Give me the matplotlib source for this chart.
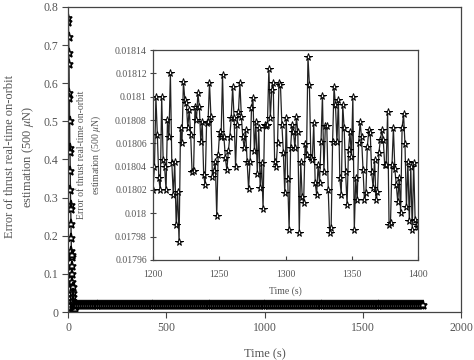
import numpy as np
import matplotlib
matplotlib.use("Agg")
import matplotlib.pyplot as plt
import matplotlib.ticker as ticker

plt.rcParams['font.family'] = ['Liberation Serif', 'DejaVu Serif']
plt.rcParams['mathtext.fontset'] = 'stix'

# Start-up transient (s, error)
trans_t = [0, 1, 2, 3, 4, 5, 6, 7, 8, 9, 10, 11, 12, 13, 14, 15, 16, 17, 18,
           19, 20, 21, 22, 23, 24, 25, 26, 27, 28, 29, 30, 32, 34, 36, 38, 40]
trans_v = [0, 0.77, 0.76, 0.72, 0.68, 0.65, 0.575, 0.56, 0.50, 0.43, 0.42,
           0.37, 0.32, 0.28, 0.27, 0.23, 0.195, 0.16, 0.145, 0.15, 0.12, 0.10,
           0.08, 0.065, 0.05, 0.04, 0.03, 0.022, 0.012, 0.006, 0.004, 0.003,
           0.008, 0.015, 0.018, 0.019]

# Steady part, one sample every 10 s from 45 s to 1805 s
steady_v = [
    0.0181, 0.0180, 0.0182, 0.0179, 0.0181, 0.0180, 0.0181, 0.0182, 0.0180, 0.0179,
    0.0181, 0.0180, 0.0182, 0.0181, 0.0180, 0.0179, 0.0181, 0.0180, 0.0181, 0.0182,
    0.0180, 0.0181, 0.0179, 0.0180, 0.0181, 0.0182, 0.0180, 0.0181, 0.0180, 0.0179,
    0.0181, 0.0180, 0.0182, 0.0181, 0.0180, 0.0181, 0.0179, 0.0180, 0.0181, 0.0180,
    0.0182, 0.0180, 0.0181, 0.0179, 0.0180, 0.0181, 0.0182, 0.0180, 0.0181, 0.0180,
    0.0179, 0.0181, 0.0180, 0.0182, 0.0181, 0.0180, 0.0181, 0.0179, 0.0180, 0.0181,
    0.0180, 0.0182, 0.0180, 0.0181, 0.0179, 0.0180, 0.0181, 0.0182, 0.0180, 0.0181,
    0.0180, 0.0179, 0.0181, 0.0180, 0.0182, 0.0181, 0.0180, 0.0181, 0.0179, 0.0180,
    0.0181, 0.0180, 0.0182, 0.0180, 0.0181, 0.0179, 0.0180, 0.0181, 0.0180, 0.0181,
    0.0182, 0.0180, 0.0179, 0.0181, 0.0180, 0.0181, 0.0182, 0.0180, 0.0181, 0.0179,
    0.0180, 0.0181, 0.0182, 0.0180, 0.0181, 0.0180, 0.0179, 0.0181, 0.0180, 0.0182,
    0.0181, 0.0180, 0.0179, 0.0181, 0.0180, 0.0181, 0.0182, 0.0180, 0.0181, 0.0179,
    0.0180, 0.0182, 0.0181, 0.0180, 0.0181, 0.0179, 0.0180, 0.0181, 0.0180, 0.0182,
    0.0181, 0.0180, 0.0179, 0.0181, 0.0180, 0.0182, 0.0181, 0.0180, 0.0181, 0.0179,
    0.0180, 0.0181, 0.0182, 0.0180, 0.0181, 0.0179, 0.0180, 0.0181, 0.0180, 0.0182,
    0.0181, 0.0180, 0.0179, 0.0181, 0.0180, 0.0181, 0.0182, 0.0180, 0.0181, 0.0179,
    0.0180, 0.0181, 0.0182, 0.0180, 0.0181, 0.0180, 0.0179, 0.0181, 0.0180, 0.0182,
    0.0181, 0.0180, 0.0179, 0.0181, 0.0180, 0.0181, 0.0180]
steady_t = np.arange(45, 1806, 10)

# Zoomed window 1200-1400 s
zoom_v = [
    0.01802, 0.01804, 0.01810, 0.018067, 0.01803, 0.01802, 0.01810, 0.018046,
    0.01804, 0.01802, 0.01808, 0.018065, 0.01812, 0.018043, 0.018016, 0.018044,
    0.01799, 0.018018, 0.017975, 0.018073, 0.01806, 0.018113, 0.018097, 0.018095,
    0.018073, 0.018089, 0.018067, 0.018035, 0.018036, 0.018091, 0.01808, 0.018103,
    0.018091, 0.018061, 0.018078, 0.018033, 0.018024, 0.018077, 0.018078, 0.018112,
    0.018083, 0.018031, 0.018036, 0.018044, 0.017998,
    0.01805, 0.01807, 0.018065, 0.018119, 0.018065, 0.018047, 0.018037, 0.018053,
    0.018065, 0.018082, 0.018108, 0.018082, 0.01804, 0.018076, 0.018087, 0.018112,
    0.018083, 0.018065, 0.018056, 0.018071, 0.018044, 0.018021, 0.018044, 0.01809,
    0.018099, 0.018053, 0.018078, 0.018034, 0.018073, 0.018022, 0.018043, 0.018004,
    0.018076, 0.018075, 0.018076, 0.018124, 0.018082, 0.018106, 0.018112, 0.018044,
    0.01804,
    0.01806, 0.018112, 0.01811, 0.018076, 0.018052, 0.018017, 0.018082, 0.018029,
    0.017986, 0.018056, 0.018076, 0.01807, 0.018056, 0.018083, 0.01807, 0.017983,
    0.018044, 0.018014, 0.018009, 0.018059, 0.01805, 0.018134, 0.01811, 0.018047,
    0.018046, 0.018077, 0.018026, 0.018016, 0.018041, 0.018026, 0.018061, 0.018101,
    0.018035, 0.018075, 0.018075, 0.01802, 0.017983, 0.017987, 0.018061, 0.018108,
    0.018093, 0.018061, 0.018097, 0.01803, 0.018016, 0.018093, 0.018073, 0.018035,
    0.018007,
    0.018054, 0.01807, 0.018048, 0.0181, 0.017986, 0.01803, 0.018011, 0.01806,
    0.018078, 0.018065, 0.018037, 0.018011, 0.018017, 0.018057, 0.018071, 0.018069,
    0.018035, 0.018022, 0.018046, 0.018011, 0.018018, 0.018052, 0.018063, 0.018071,
    0.018063, 0.018041, 0.018041, 0.018087, 0.01799, 0.017992, 0.018041, 0.018073,
    0.018038, 0.018024, 0.01801, 0.01803, 0.018, 0.018073, 0.018085, 0.018059,
    0.018005, 0.018044, 0.017993, 0.01804, 0.017986, 0.018043, 0.017994, 0.01799,
    0.017988]
zoom_t = np.linspace(1200, 1400, len(zoom_v))

main_yticks = [0, 0.1, 0.2, 0.3, 0.4, 0.5, 0.6, 0.7, 0.8]
main_xticks = [0, 500, 1000, 1500, 2000]
zoom_xticks = [1200, 1250, 1300, 1350, 1400]
zoom_yticks = [0.01796, 0.01798, 0.018, 0.01802, 0.01804, 0.01806, 0.01808,
               0.0181, 0.01812, 0.01814]
zoom_ylabels = ['0.01796', '0.01798', '0.018', '0.01802', '0.01804', '0.01806',
                '0.01808', '0.0181', '0.01812', '0.01814']

ylab = 'Error of thrust real-time on-orbit\nestimation (500 $\\mu$N)'
txt = '#555555'
spine = '#444444'
line = '#222222'

fig = plt.figure(figsize=(4.74, 3.6), dpi=100)
ax = fig.add_axes([0.1435, 0.1333, 0.8291, 0.8473])

all_t = list(trans_t) + list(steady_t)
all_v = list(trans_v) + list(steady_v)
ax.plot(all_t, all_v, color=line, lw=1.0, marker='*', ms=6.5,
        mfc='white', mec='black', mew=1.2)
ax.set_xlim(0, 2000)
ax.set_ylim(0, 0.8)
ax.set_xticks(main_xticks)
ax.set_yticks(main_yticks)
ax.yaxis.set_major_formatter(ticker.FormatStrFormatter('%g'))
ax.tick_params(direction='out', length=4, width=0.8, colors=spine,
               labelcolor=txt, labelsize=8.5, pad=3)
for s in ax.spines.values():
    s.set_color(spine)
    s.set_linewidth(0.9)
ax.set_xlabel('Time (s)', fontsize=9, color=txt)
ax.xaxis.set_label_coords(0.5, -0.118)
ax.set_ylabel(ylab, fontsize=9, color=txt, linespacing=1.3)
ax.yaxis.set_label_coords(-0.082, 0.51)

# inset
axin = fig.add_axes([0.3228, 0.2778, 0.5591, 0.5833])
axin.plot(zoom_t, zoom_v, color=line, lw=0.9, marker='*', ms=5.5,
          mfc='white', mec='black', mew=0.7)
axin.set_xlim(1200, 1400)
axin.set_ylim(0.01796, 0.01814)
axin.set_xticks(zoom_xticks)
axin.set_yticks(zoom_yticks)
axin.set_yticklabels(zoom_ylabels)
axin.tick_params(axis='y', direction='inout', length=5, width=0.8, colors=spine,
                 labelcolor=txt, labelsize=7, pad=2)
axin.tick_params(axis='x', direction='in', length=3, width=0.8, colors=spine,
                 labelcolor=txt, labelsize=7, pad=7.5)
for s in axin.spines.values():
    s.set_color(spine)
    s.set_linewidth(0.9)
axin.set_xlabel('Time (s)', fontsize=7, color=txt)
axin.xaxis.set_label_coords(0.5, -0.128)
axin.set_ylabel(ylab, fontsize=7, color=txt, linespacing=1.3)
axin.yaxis.set_label_coords(-0.19, 0.5)

fig.savefig('out.png', dpi=100)
